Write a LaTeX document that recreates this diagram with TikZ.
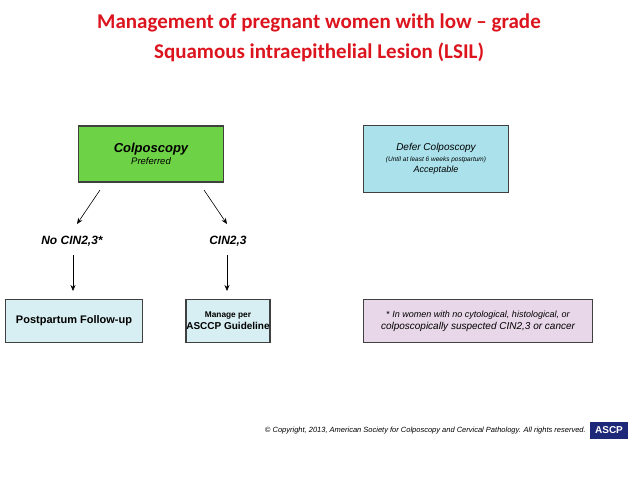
\documentclass[tikz,border=0pt]{standalone}
\usepackage{fontspec}
\setmainfont{Liberation Sans}
\newfontfamily\titlefont{Carlito}
\usetikzlibrary{arrows.meta}
\definecolor{tred}{RGB}{220,20,30}
\definecolor{gbox}{RGB}{110,210,70}
\definecolor{cbox}{RGB}{170,225,235}
\definecolor{lbox}{RGB}{215,238,242}
\definecolor{pbox}{RGB}{232,215,232}
\definecolor{navy}{RGB}{30,40,120}
\tikzset{
 boxs/.style={draw=black!75, line width=1.2pt, inner sep=0pt, align=center},
 arr/.style={-{Stealth[length=6pt,width=5pt]}, line width=0.6pt},
 lbl/.style={font=\fontsize{12}{14}\selectfont\itshape\bfseries, inner sep=0pt}
}
\begin{document}
\begin{tikzpicture}[x=1pt,y=-1pt]
\useasboundingbox (0,0) rectangle (638,479);
\node[text=tred, align=center, font=\titlefont\bfseries\fontsize{21}{30}\selectfont] (title) at (319,38) {Management of pregnant women with low – grade\\Squamous intraepithelial Lesion (LSIL)};
\node[boxs, fill=gbox, minimum width=145, minimum height=56] (colp) at (151,154)
 {{\fontsize{13}{15}\selectfont\itshape\bfseries Colposcopy}\\{\fontsize{9.5}{11}\selectfont\itshape Preferred}};
\node[boxs, fill=cbox, minimum width=145, minimum height=67] (defer) at (436,159)
 {{\fontsize{10}{12}\selectfont\itshape Defer Colposcopy}\\[-1pt]{\fontsize{6.5}{8}\selectfont\itshape (Until at least 6 weeks postpartum)}\\[-1pt]{\fontsize{9}{11}\selectfont\itshape Acceptable}};
\node[lbl] (nocin) at (72,241) {No CIN2,3*};
\node[lbl] (cin) at (228,241) {CIN2,3};
\node[boxs, fill=lbox, minimum width=137, minimum height=43] (post) at (74,321)
 {\fontsize{11}{13}\selectfont\bfseries Postpartum Follow-up};
\node[boxs, fill=lbox, minimum width=84, minimum height=43] (man) at (228,321)
 {\fontsize{8.3}{12}\selectfont\bfseries Manage per\\\bfseries ASCCP Guideline};
\node[boxs, fill=pbox, minimum width=229, minimum height=43] (foot) at (478,321)
 {\fontsize{9}{12}\selectfont * \itshape In women with no cytological, histological, or\\\itshape colposcopically suspected CIN2,3 or cancer};
\coordinate (a1) at (100,190); \coordinate (a2) at (77,224);
\coordinate (b1) at (204,190); \coordinate (b2) at (227,224);
\coordinate (c1) at (73,255); \coordinate (c2) at (73,291);
\coordinate (d1) at (227,255); \coordinate (d2) at (227,291);
\draw[arr] (a1) -- (a2);
\draw[arr] (b1) -- (b2);
\draw[arr] (c1) -- (c2);
\draw[arr] (d1) -- (d2);
\node[font=\fontsize{7.5}{9}\selectfont\itshape, anchor=east, inner sep=0pt] (copy) at (586,431) {© Copyright, 2013, American Society for Colposcopy and Cervical Pathology. All rights reserved.};
\node[fill=navy, text=white, font=\fontsize{10}{12}\selectfont\bfseries, minimum width=38, minimum height=17, inner sep=0pt] (logo) at (609,430) {ASCP};
\end{tikzpicture}
\end{document}
